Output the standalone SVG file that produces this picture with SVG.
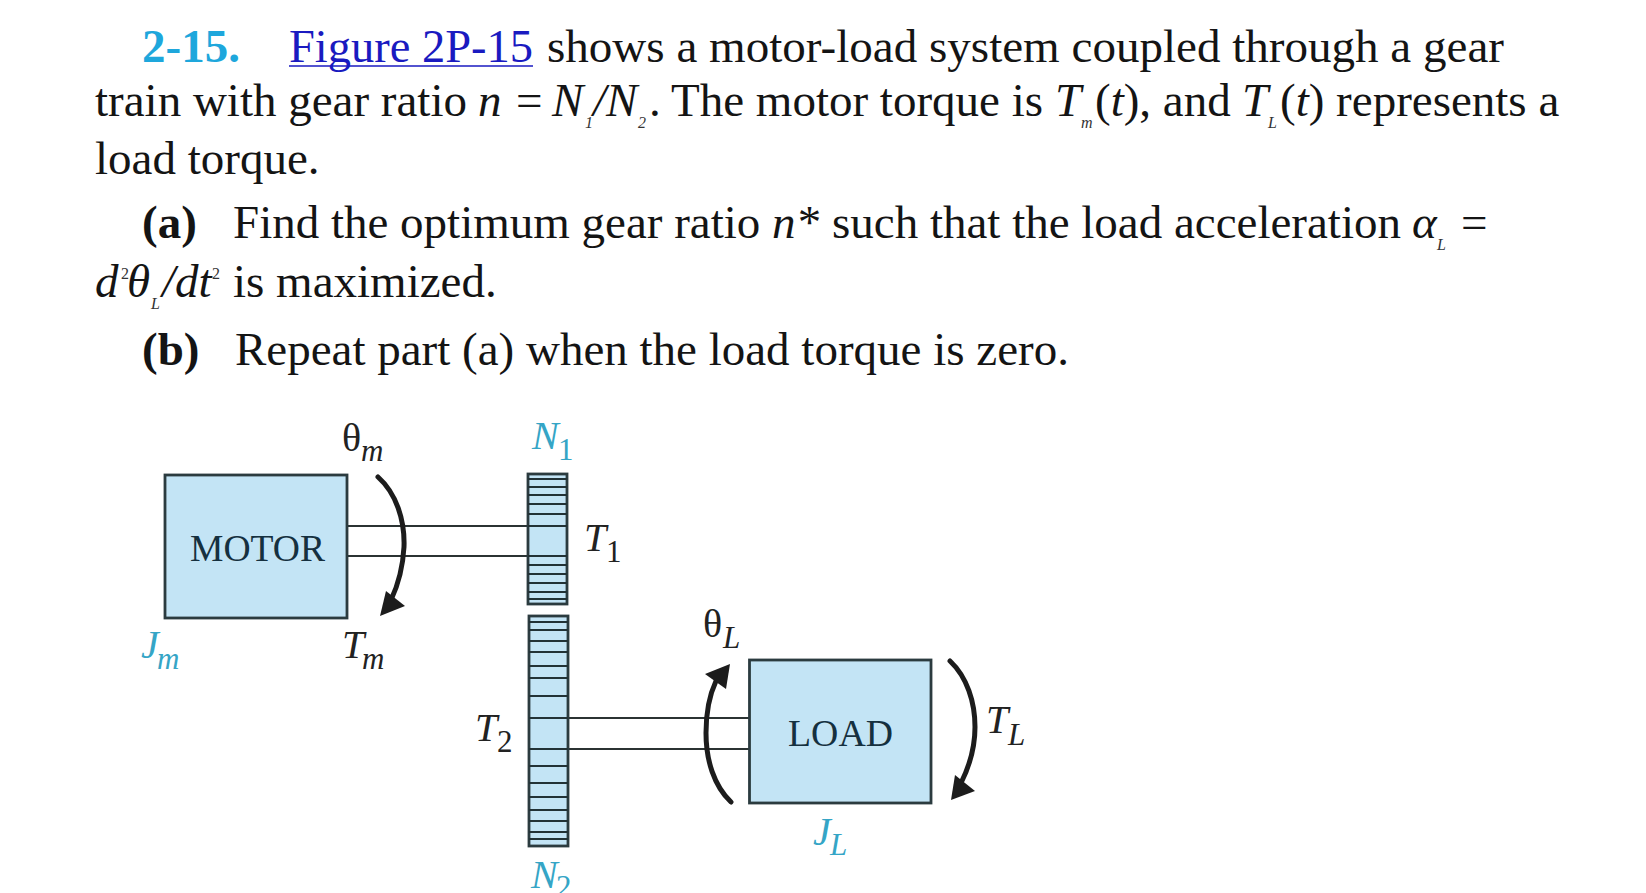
<svg xmlns="http://www.w3.org/2000/svg" width="1646" height="893" viewBox="0 0 1646 893">
<style>
text{font-family:"Liberation Serif","Times New Roman",serif;fill:#141414}
.b{font-size:47px}
.i{font-style:italic}
.bd{font-weight:bold}
.s{font-size:16px;font-style:italic;fill:#333}
.d{font-size:37px;fill:#15303f}
.l{font-size:40px;font-style:italic;fill:#222}
.ls{font-size:31px;font-style:italic;fill:#222}
.box{fill:#c3e4f5;stroke:#2b3b3f;stroke-width:2.8}
.t{stroke:#223236;stroke-width:2.2;fill:none}
.shaft{stroke:#2b3333;stroke-width:2.2;fill:none}
.arc{stroke:#1c1c1c;stroke-width:5;fill:none;stroke-linecap:round}
.hd{fill:#1c1c1c}
</style>
<rect width="1646" height="893" fill="#fff"/>
<g id="problem-text">
<text class="b bd" x="142" y="62" style="fill:#1ea7dc">2-15.</text>
<text class="b" x="289" y="62" textLength="244" lengthAdjust="spacingAndGlyphs" style="fill:#1a1ac0">Figure 2P-15</text>
<line x1="289" y1="66" x2="533" y2="66" stroke="#1a1ac0" stroke-width="1.6"/>
<text class="b" x="547" y="62" textLength="957" lengthAdjust="spacingAndGlyphs">shows a motor-load system coupled through a gear</text>
<text class="b" x="95" y="116">train with gear ratio</text>
<text class="b i" x="478" y="116">n</text>
<text class="b" x="516" y="116">=</text>
<text class="b i" x="552" y="116">N</text>
<text class="s" x="585" y="128">1</text>
<text class="b i" x="593" y="116">/N</text>
<text class="s" x="638" y="128">2</text>
<text class="b" x="649" y="116">.</text>
<text class="b" x="671" y="116">The motor torque is</text>
<text class="b i" x="1055" y="116">T</text>
<text class="s" x="1081" y="128">m</text>
<text class="b" x="1095" y="116">(<tspan class="i">t</tspan>), and</text>
<text class="b i" x="1242" y="116">T</text>
<text class="s" x="1268" y="128">L</text>
<text class="b" x="1280" y="116">(<tspan class="i">t</tspan>) represents a</text>
<text class="b" x="95" y="174">load torque.</text>
<text class="b bd" x="142" y="238">(a)</text>
<text class="b" x="233" y="238">Find the optimum gear ratio</text>
<text class="b i" x="772" y="238">n*</text>
<text class="b" x="832" y="238">such that the load acceleration</text>
<text class="b i" x="1412" y="238">α</text>
<text class="s" x="1437" y="250">L</text>
<text class="b" x="1461" y="238">=</text>
<text class="b i" x="95" y="297">d</text>
<text class="s" x="121" y="279" style="font-style:normal">2</text>
<text class="b i" x="127" y="297">θ</text>
<text class="s" x="151" y="309">L</text>
<text class="b i" x="162" y="297">/dt</text>
<text class="s" x="212" y="279" style="font-style:normal">2</text>
<text class="b" x="233" y="297">is maximized.</text>
<text class="b bd" x="142" y="365">(b)</text>
<text class="b" x="235" y="365">Repeat part (a) when the load torque is zero.</text>
</g>
<g id="connectors">
<path class="shaft" d="M347 526H528M347 556H528"/>
<path class="shaft" d="M568 718H750M568 749H750"/>
<path class="arc" d="M378 477C396 493 405 520 404 547C403 565 399 583 391 600"/>
<path class="hd" d="M380 616L386 591L405 606Z"/>
<path class="arc" d="M731 802C714 786 706 760 706 733C706 714 709 696 716 681"/>
<path class="hd" d="M730 664L705 674L726 689Z"/>
<path class="arc" d="M950 661C967 677 975 702 975 727C975 745 970 765 961 783"/>
<path class="hd" d="M951 800L955 775L975 791Z"/>
</g>
<g id="motor">
<rect class="box" x="165" y="475" width="182" height="143"/>
<text class="d" x="190" y="561" textLength="135" lengthAdjust="spacingAndGlyphs">MOTOR</text>
</g>
<g id="load">
<rect class="box" x="749.500" y="660" width="181.500" height="143"/>
<text class="d" x="788" y="746" textLength="105" lengthAdjust="spacingAndGlyphs">LOAD</text>
</g>
<g id="gear-n1">
<rect class="box" x="528" y="474" width="39" height="130"/>
<path class="t" d="M528 479H567M528 487H567M528 495H567M528 504H567M528 514H567M528 526H567M528 556H567M528 565H567M528 574H567M528 583H567M528 592H567M528 599H567"/>
</g>
<g id="gear-n2">
<rect class="box" x="529" y="616" width="39" height="230"/>
<path class="t" d="M529 622H568M529 630H568M529 641H568M529 652H568M529 666H568M529 678H568M529 696H568M529 718H568M529 749H568M529 766H568M529 783H568M529 797H568M529 810H568M529 821H568M529 832H568M529 839H568"/>
</g>
<g id="labels">
<text class="l" x="342" y="451" style="font-style:normal">θ</text><text class="ls" x="361" y="461">m</text>
<text class="l" x="532" y="449" style="fill:#35a5c6">N</text><text class="ls" x="558" y="460" style="font-style:normal;fill:#35a5c6">1</text>
<text class="l" x="584" y="551">T</text><text class="ls" x="606" y="562" style="font-style:normal">1</text>
<text class="l" x="141" y="658" style="fill:#35a5c6">J</text><text class="ls" x="157" y="669" style="fill:#35a5c6">m</text>
<text class="l" x="342" y="658">T</text><text class="ls" x="362" y="669">m</text>
<text class="l" x="703" y="637" style="font-style:normal">θ</text><text class="ls" x="723" y="648">L</text>
<text class="l" x="475" y="741">T</text><text class="ls" x="497" y="752" style="font-style:normal">2</text>
<text class="l" x="986" y="733">T</text><text class="ls" x="1008" y="745">L</text>
<text class="l" x="813" y="845" style="fill:#35a5c6">J</text><text class="ls" x="830" y="855" style="fill:#35a5c6">L</text>
<text class="l" x="531" y="888" style="fill:#35a5c6">N</text><text class="ls" x="556" y="897" style="font-style:normal;fill:#35a5c6">2</text>
</g>
</svg>
